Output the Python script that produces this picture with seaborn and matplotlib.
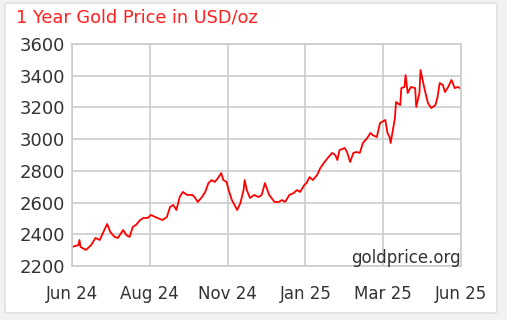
import matplotlib
matplotlib.use("Agg")
import matplotlib.pyplot as plt
import seaborn as sns
import pandas as pd
from matplotlib.patches import FancyBboxPatch

# Day index from the start of the one-year window (0 = Jun 24, 365 = Jun 25)
days = [0, 6, 7, 8, 13, 18, 22, 26, 29, 33, 36, 40, 43, 48, 51, 54, 57, 60, 64, 67,
        71, 74, 80, 85, 89, 92, 95, 98, 101, 104, 108, 113, 115, 118, 122, 125, 128,
        131, 134, 137, 140, 142, 145, 147, 150, 155, 158, 161, 162, 164, 167, 171,
        175, 178, 181, 185, 190, 194, 197, 200, 204, 208, 211, 214, 218, 220, 223,
        226, 230, 233, 237, 240, 244, 247, 249, 251, 256, 258, 261, 264, 267, 270,
        273, 277, 280, 282, 286, 289, 294, 296, 298, 299, 303, 304, 308, 309, 312,
        313, 315, 318, 322, 323, 326, 327, 331, 334, 337, 341, 343, 345, 348, 350,
        353, 356, 357, 359, 362, 364]
prices = [2320, 2332, 2364, 2320, 2301, 2332, 2377, 2364, 2408, 2465, 2414, 2383,
          2377, 2427, 2395, 2383, 2446, 2459, 2490, 2503, 2503, 2522, 2503, 2490,
          2509, 2572, 2585, 2553, 2635, 2667, 2648, 2648, 2635, 2604, 2635, 2667,
          2723, 2742, 2730, 2755, 2786, 2742, 2730, 2679, 2616, 2553, 2597, 2679,
          2742, 2679, 2629, 2648, 2635, 2648, 2723, 2648, 2604, 2604, 2616, 2604,
          2648, 2660, 2679, 2667, 2711, 2723, 2761, 2742, 2774, 2818, 2856, 2881,
          2913, 2900, 2868, 2931, 2944, 2919, 2856, 2913, 2919, 2913, 2976, 3007,
          3039, 3026, 3013, 3102, 3121, 3039, 3013, 2976, 3133, 3234, 3215, 3322,
          3329, 3404, 3291, 3329, 3322, 3203, 3291, 3436, 3310, 3228, 3196, 3215,
          3266, 3354, 3341, 3297, 3329, 3373, 3360, 3322, 3329, 3322]

tick_days = [0, 73, 146, 219, 292, 365]
tick_labels = ["Jun 24", "Aug 24", "Nov 24", "Jan 25", "Mar 25", "Jun 25"]
y_ticks = [2200, 2400, 2600, 2800, 3000, 3200, 3400, 3600]

sns.set_style("white")
plt.rcParams["font.family"] = ["DejaVu Sans"]

df = pd.DataFrame({"day": days, "price": prices})

fig = plt.figure(figsize=(5.07, 3.20), dpi=100)
fig.patch.set_facecolor("#f2f2f2")

# white rounded panel
panel = FancyBboxPatch((5 / 507, 7 / 320), 492 / 507, 310 / 320,
                       boxstyle="round,pad=0,rounding_size=0.006",
                       transform=fig.transFigure, facecolor="white",
                       edgecolor="#dcdcdc", linewidth=1.0, zorder=-5)
fig.patches.append(panel)

ax = fig.add_axes([72 / 507, 1 - 266 / 320, (461 - 72) / 507, (266 - 44) / 320])
ax.set_facecolor("white")
ax.set_zorder(2)

sns.lineplot(data=df, x="day", y="price", ax=ax, color="#ff0000", linewidth=1.3)

ax.set_xlim(0, 365)
ax.set_ylim(2200, 3600)
ax.set_xticks(tick_days)
ax.set_xticklabels(tick_labels)
ax.set_yticks(y_ticks)
ax.set_xlabel("")
ax.set_ylabel("")

ax.grid(True, color="#cccccc", linewidth=1.2)
for s in ax.spines.values():
    s.set_color("#cccccc")
    s.set_linewidth(1.2)

ax.tick_params(axis="x", length=9, width=1.2, color="#cccccc", pad=5,
               labelsize=12, labelcolor="#333333")
ax.tick_params(axis="y", length=0, pad=5, labelsize=13, labelcolor="#333333")

ax.text(1.0, -0.005, "goldprice.org", transform=ax.transAxes, ha="right",
        va="bottom", fontsize=12, color="#333333")

fig.text(16 / 507, 1 - 17 / 320, "1 Year Gold Price in USD/oz", ha="left",
         va="center", fontsize=12.8, color="#ff2020")

fig.savefig("out.png", dpi=100, facecolor=fig.get_facecolor())
